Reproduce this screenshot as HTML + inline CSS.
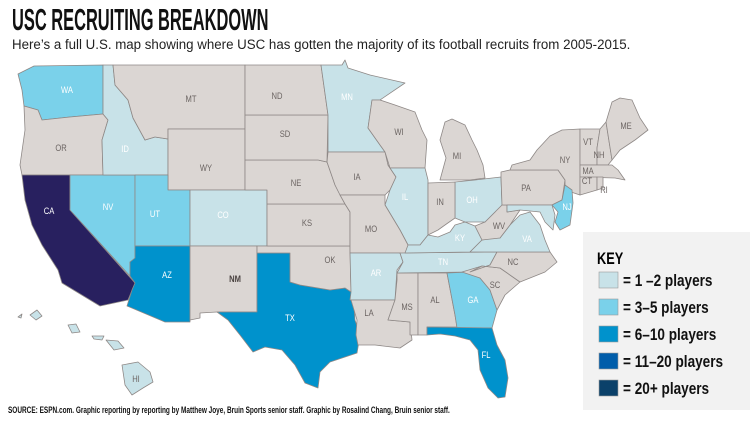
<!DOCTYPE html>
<html><head><meta charset="utf-8"><style>
body{margin:0;background:#fff;width:750px;height:423px;overflow:hidden;font-family:"Liberation Sans",sans-serif}
#title{position:absolute;left:12px;top:2px;font:bold 31px "Liberation Sans",sans-serif;color:#111;transform:scaleX(0.53);transform-origin:0 0;white-space:nowrap}
#sub{position:absolute;left:12px;top:37px;font:13.4px "Liberation Sans",sans-serif;color:#222;transform:scaleX(0.993);transform-origin:0 0;white-space:nowrap}
#src{position:absolute;left:8px;top:405px;font:bold 9.5px "Liberation Sans",sans-serif;color:#111;transform:scaleX(0.68);transform-origin:0 0;white-space:nowrap}
#key{position:absolute;left:583px;top:232px;width:167px;height:178px;background:#f2f2f2}
</style></head><body>
<div id="title">USC RECRUITING BREAKDOWN</div>
<div id="sub">Here’s a full U.S. map showing where USC has gotten the majority of its football recruits from 2005-2015.</div>
<svg id="map" width="750" height="423" style="position:absolute;left:0;top:0"></svg>
<div id="key"><svg id="keysvg" width="167" height="178"></svg></div>
<div id="src">SOURCE: ESPN.com. Graphic reporting by reporting by Matthew Joye, Bruin Sports senior staff. Graphic by Rosalind Chang, Bruin senior staff.</div>
<script>
const categories=["0","1-2","3-5","6-10","11-20","20+"];
const legendLabels=["= 1 –2 players","= 3–5 players","= 6–10 players","= 11–20 players","= 20+ players"];
const stateCodes=["WA","OR","CA","NV","ID","MT","WY","UT","CO","AZ","NM","TX","OK","KS","NE","SD","ND","MN","IA","WI","IL","MO","AR","LA","MS","AL","TN","KY","GA","FL","SC","NC","VA","WV","OH","IN","MI","PA","NY","NJ","VT","NH","ME","MA","CT","RI","MD","HI"];
const stateCategory=[2,0,5,2,1,0,0,2,1,3,0,3,0,0,0,0,0,1,0,0,1,0,1,0,0,0,1,1,2,3,0,0,1,0,1,0,0,0,0,2,0,0,0,0,0,0,1,1];
const fills=["#dbd6d3","#c8e2e8","#7ad1ea","#0092cc","#005daa","#0b416a"];
const stateFill={CA:"#28205f"};
const shapes={
WA:[[18,74],[34,66],[103,65],[103,114],[70,117],[42,120],[38,110],[24,106],[22,90]],
OR:[[24,106],[38,110],[42,120],[70,117],[103,114],[108,120],[102,140],[103,175],[22,175],[20,165],[25,130]],
CA:[[22,175],[70,175],[70,210],[135,283],[128,300],[100,306],[62,283],[58,270],[42,245],[32,225],[25,200]],
NV:[[70,175],[135,175],[135,260],[130,262],[130,276],[70,210]],
ID:[[103,65],[113,65],[115,85],[128,100],[133,118],[145,140],[155,137],[168,139],[168,175],[103,175],[102,140],[108,120],[103,114]],
MT:[[113,65],[245,65],[245,129],[168,129],[168,139],[155,137],[145,140],[133,118],[128,100],[115,85]],
WY:[[168,129],[245,129],[245,190],[168,190]],
UT:[[135,175],[168,175],[168,190],[190,190],[190,246],[135,246]],
CO:[[190,190],[267,190],[267,246],[190,246]],
AZ:[[135,246],[190,246],[190,322],[165,322],[127,306],[132,290],[135,283],[130,276],[130,262],[135,258]],
NM:[[190,246],[257,246],[257,312],[217,312],[200,313],[200,318],[190,320]],
TX:[[257,253],[290,253],[290,282],[300,285],[330,290],[345,288],[353,292],[355,320],[360,335],[357,353],[330,362],[320,372],[318,388],[305,383],[295,365],[282,350],[265,347],[253,352],[240,335],[228,320],[217,312],[257,312]],
OK:[[257,246],[350,246],[351,292],[345,288],[330,290],[300,285],[290,282],[290,253],[257,253]],
KS:[[267,204],[345,204],[350,212],[350,246],[267,246]],
NE:[[245,160],[318,160],[327,162],[335,185],[345,204],[267,204],[267,190],[245,190]],
SD:[[245,115],[328,115],[327,162],[318,160],[245,160]],
ND:[[245,65],[321,65],[328,115],[245,115]],
MN:[[321,65],[342,65],[345,60],[348,68],[370,75],[405,83],[380,100],[372,100],[368,128],[385,152],[328,152],[328,115]],
IA:[[328,152],[385,152],[388,165],[396,177],[390,190],[385,195],[340,195],[335,185],[327,162]],
WI:[[368,128],[372,100],[380,100],[395,105],[415,112],[422,130],[427,140],[425,168],[390,168],[385,152]],
IL:[[390,168],[425,168],[428,180],[428,235],[420,245],[408,245],[400,230],[385,205],[390,190],[396,177],[388,165]],
MO:[[340,195],[385,195],[385,205],[400,230],[408,245],[405,262],[400,253],[350,253],[350,212],[345,204]],
AR:[[350,253],[400,253],[403,262],[397,270],[395,300],[350,300],[351,292]],
LA:[[351,300],[395,300],[388,320],[410,322],[412,340],[400,348],[375,345],[358,345],[356,335],[357,320]],
MS:[[397,273],[418,273],[418,335],[410,335],[410,322],[388,320],[395,300],[397,280]],
AL:[[418,273],[447,273],[455,315],[457,327],[427,327],[427,335],[418,335]],
TN:[[400,253],[497,252],[490,265],[470,272],[397,273],[403,262]],
KY:[[408,245],[420,245],[428,235],[438,237],[450,232],[455,225],[465,222],[475,226],[482,240],[470,252],[405,253]],
GA:[[447,273],[470,272],[480,278],[490,290],[497,310],[492,328],[457,328],[455,315]],
FL:[[427,327],[492,328],[497,345],[505,360],[508,378],[505,397],[498,398],[488,388],[480,370],[478,350],[470,340],[455,336],[440,334],[427,335]],
SC:[[462,272],[482,266],[500,268],[520,282],[505,295],[497,310],[490,290],[480,278]],
NC:[[470,272],[490,265],[497,252],[550,252],[557,262],[545,272],[520,282],[500,268],[482,266]],
VA:[[470,252],[482,240],[492,238],[500,238],[510,225],[520,215],[530,212],[540,225],[545,240],[550,252]],
WV:[[482,240],[475,226],[485,222],[495,212],[500,205],[507,205],[507,212],[520,210],[510,225],[500,238]],
OH:[[455,182],[475,180],[501,177],[502,205],[495,212],[485,222],[475,222],[465,222],[455,218]],
IN:[[428,183],[455,182],[455,218],[445,225],[438,230],[428,235]],
MI:[[440,180],[446,158],[440,140],[445,122],[452,119],[465,125],[472,140],[477,150],[483,165],[485,178],[470,180]],
PA:[[501,177],[501,172],[510,170],[558,170],[565,180],[562,200],[552,205],[502,205]],
NY:[[510,170],[512,165],[530,160],[537,150],[550,136],[562,130],[580,129],[580,165],[580,195],[565,190],[565,180],[558,170]],
NJ:[[565,185],[572,190],[573,203],[570,225],[560,230],[555,222],[558,212],[552,205],[562,200]],
VT:[[580,129],[600,129],[597,148],[597,165],[580,165]],
NH:[[600,129],[606,122],[612,160],[608,165],[597,165],[597,148]],
ME:[[606,122],[612,102],[620,98],[632,100],[640,118],[648,130],[635,140],[620,150],[612,160]],
MA:[[580,165],[612,165],[618,170],[625,180],[615,178],[580,177]],
CT:[[580,177],[597,177],[597,190],[580,195]],
RI:[[597,177],[603,177],[603,188],[597,190]],
MD:[[507,205],[552,205],[555,215],[553,230],[545,222],[540,212],[520,210],[507,212]],
HI:[[122,365],[138,362],[150,372],[153,382],[143,388],[132,395],[125,385]]};
const extraHI=[[[30,315],[37,310],[42,316],[36,320]],[[68,325],[76,324],[80,332],[72,333]],[[92,336],[104,336],[102,340],[94,339]],[[106,340],[118,341],[124,348],[114,350]],[[18,317],[22,314],[21,318]]];
const labels={WA:[67,90],OR:[61,148],CA:[49,211],NV:[108,207],ID:[125,149],MT:[191,99],WY:[206,168],UT:[155,214],CO:[223,215],AZ:[167,275],NM:[235,279],TX:[290,318],OK:[330,260],KS:[307,223],NE:[296,183],SD:[285,134],ND:[277,96],MN:[347,97],IA:[357,177],WI:[399,132],IL:[405,197],MO:[371,229],AR:[376,273],LA:[369,313],MS:[407,307],AL:[435,300],TN:[443,262],KY:[460,238],GA:[473,300],FL:[486,355],SC:[495,285],NC:[513,262],VA:[527,239],WV:[499,226],OH:[472,200],IN:[440,202],MI:[457,156],PA:[526,188],NY:[565,160],NJ:[567,207],VT:[588,142],NH:[599,155],ME:[626,126],MA:[588,171],CT:[587,181],RI:[604,190],HI:[136,379]};
const NS="http://www.w3.org/2000/svg";
const mapSvg=document.getElementById('map');
function pts(a){return a.map(p=>p.join(',')).join(' ');}
function poly(parent,a,fill,code){const p=document.createElementNS(NS,'polygon');p.setAttribute('points',pts(a));p.setAttribute('fill',fill);p.setAttribute('stroke','#8e8886');p.setAttribute('stroke-width','0.8');p.setAttribute('stroke-linejoin','round');


parent.appendChild(p);}
stateCodes.forEach((c,i)=>{const f=stateFill[c]||fills[stateCategory[i]];poly(mapSvg,shapes[c],f,c);if(c==='HI')extraHI.forEach(s=>poly(mapSvg,s,f,'hi-island'));});
stateCodes.forEach((c,i)=>{const l=labels[c];if(!l)return;const t=document.createElementNS(NS,'text');t.setAttribute('transform','translate('+l[0]+','+(l[1]+3)+') scale(0.8,1)');t.setAttribute('text-anchor','middle');t.setAttribute('font-size','9.5');t.setAttribute('font-family','"Liberation Sans",sans-serif');
const cat=stateCategory[i];t.setAttribute('fill',cat===0?(c==='NM'?'#4a4240':'#6b6462'):(c==='HI'?'#6b6462':'#ffffff'));if(c==='NM')t.setAttribute('font-weight','bold');
t.textContent=c;


mapSvg.appendChild(t);});
const ks=document.getElementById('keysvg');
const kt=document.createElementNS(NS,'text');kt.setAttribute('transform','translate(14,32) scale(0.75,1)');kt.setAttribute('font-size','17');kt.setAttribute('font-weight','bold');kt.setAttribute('font-family','"Liberation Sans",sans-serif');kt.textContent='KEY';


ks.appendChild(kt);
legendLabels.forEach((lab,i)=>{const y=40+i*27;const r=document.createElementNS(NS,'rect');r.setAttribute('x',16);r.setAttribute('y',y);r.setAttribute('width',19);r.setAttribute('height',16);r.setAttribute('fill',fills[i+1]);r.setAttribute('stroke','#9a9a9a');r.setAttribute('stroke-width','0.6');


ks.appendChild(r);
const t=document.createElementNS(NS,'text');t.setAttribute('transform','translate(40,'+(y+14)+') scale(0.8,1)');t.setAttribute('font-size','17');t.setAttribute('font-weight','bold');t.setAttribute('font-family','"Liberation Sans",sans-serif');t.setAttribute('fill','#111');t.textContent=lab;


ks.appendChild(t);});
</script>
</body></html>
